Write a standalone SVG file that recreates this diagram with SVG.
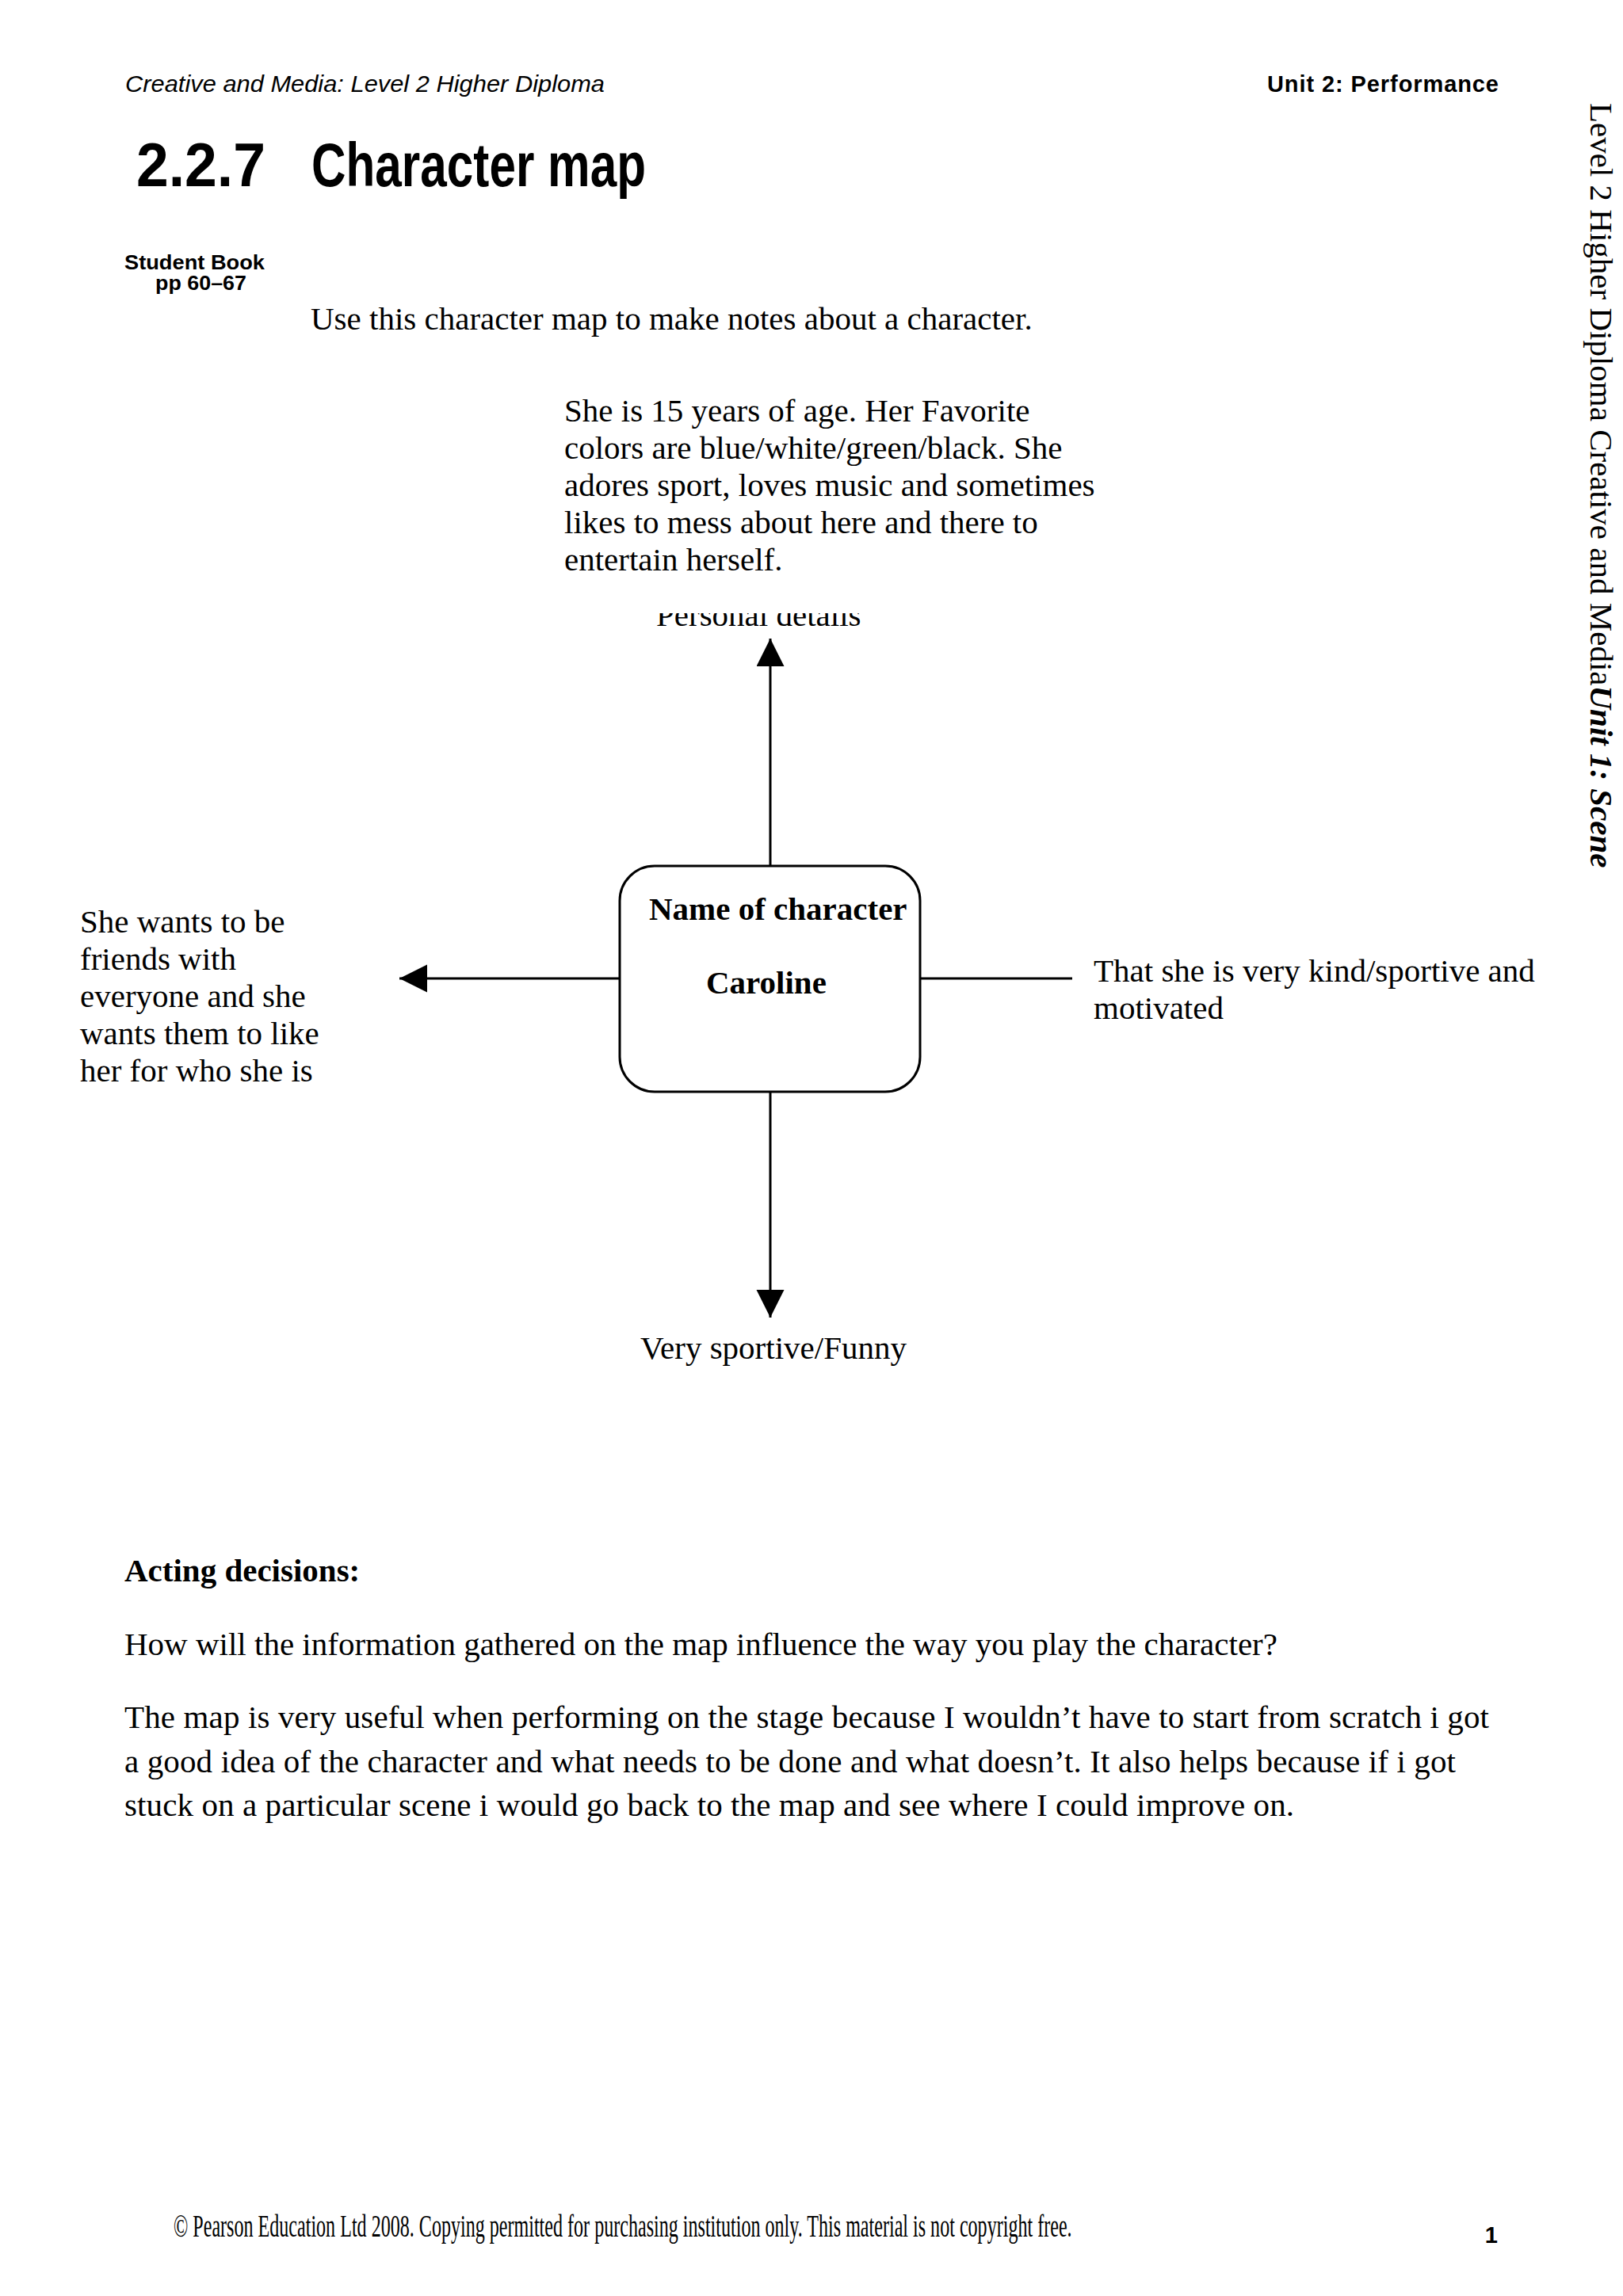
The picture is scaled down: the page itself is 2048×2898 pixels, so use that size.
<svg xmlns="http://www.w3.org/2000/svg" width="2048" height="2898" viewBox="0 0 2048 2898">
<style>
.serif{font-family:"Liberation Serif","Times New Roman",serif;font-size:41px;fill:#000}
.bold{font-weight:bold}
.sans{font-family:"Liberation Sans",Arial,sans-serif;fill:#000}
.conn{stroke:#000;stroke-width:3;fill:none}
.box{stroke:#000;stroke-width:3;fill:#fff}
</style>
<defs>
<marker id="arrow" markerUnits="userSpaceOnUse" markerWidth="36" markerHeight="36" refX="35" refY="17.5" orient="auto">
<path d="M0,0 L35,17.5 L0,35 z" fill="#000"/>
</marker>
<clipPath id="clipPD"><rect x="700" y="774" width="600" height="60"/></clipPath>
</defs>
<rect width="2048" height="2898" fill="#fff"/>

<g id="page-header">
<text class="sans" x="158" y="116" font-size="30" font-style="italic" textLength="605" lengthAdjust="spacingAndGlyphs">Creative and Media: Level 2 Higher Diploma</text>
<text class="sans" x="1599" y="116" font-size="29" font-weight="bold" textLength="292" lengthAdjust="spacing">Unit 2: Performance</text>
<text class="sans" x="172" y="235" font-size="77" font-weight="bold" textLength="163" lengthAdjust="spacingAndGlyphs">2.2.7</text>
<text class="sans" x="393" y="235" font-size="77" font-weight="bold" textLength="422" lengthAdjust="spacingAndGlyphs">Character map</text>
<text class="sans" x="157" y="340" font-size="25" font-weight="bold" textLength="177" lengthAdjust="spacingAndGlyphs">Student Book</text>
<text class="sans" x="196" y="366" font-size="25" font-weight="bold" textLength="115" lengthAdjust="spacingAndGlyphs">pp 60–67</text>
<text class="serif" x="392" y="416">Use this character map to make notes about a character.</text>
<text class="serif" transform="translate(2007,130) rotate(90)" x="0" y="0">Level 2 Higher Diploma Creative and Media<tspan font-weight="bold" font-style="italic">Unit 1: Scene</tspan></text>
</g>

<g id="connectors">
<line class="conn" x1="972" y1="1092" x2="972" y2="806" marker-end="url(#arrow)"/>
<line class="conn" x1="782" y1="1235" x2="504" y2="1235" marker-end="url(#arrow)"/>
<line class="conn" x1="1161" y1="1235" x2="1353" y2="1235"/>
<line class="conn" x1="972" y1="1378" x2="972" y2="1663" marker-end="url(#arrow)"/>
</g>

<g id="node-center">
<rect class="box" x="782" y="1093" width="379" height="285" rx="44" ry="44"/>
<text class="serif bold" x="819" y="1161">Name of character</text>
<text class="serif bold" x="891" y="1254">Caroline</text>
</g>

<g id="node-top">
<text class="serif" x="828" y="790" clip-path="url(#clipPD)">Personal details</text>
<text class="serif" x="712">
<tspan x="712" y="532">She is 15 years of age. Her Favorite</tspan>
<tspan x="712" y="579">colors are blue/white/green/black. She</tspan>
<tspan x="712" y="626">adores sport, loves music and sometimes</tspan>
<tspan x="712" y="673">likes to mess about here and there to</tspan>
<tspan x="712" y="720">entertain herself.</tspan>
</text>
</g>

<g id="node-left">
<text class="serif">
<tspan x="101" y="1177">She wants to be</tspan>
<tspan x="101" y="1224">friends with</tspan>
<tspan x="101" y="1271">everyone and she</tspan>
<tspan x="101" y="1318">wants them to like</tspan>
<tspan x="101" y="1365">her for who she is</tspan>
</text>
</g>

<g id="node-right">
<text class="serif">
<tspan x="1380" y="1239">That she is very kind/sportive and</tspan>
<tspan x="1380" y="1286">motivated</tspan>
</text>
</g>

<g id="node-bottom">
<text class="serif" x="808" y="1715">Very sportive/Funny</text>
</g>

<g id="acting-decisions">
<text class="serif bold" x="157" y="1996">Acting decisions:</text>
<text class="serif" x="157" y="2089">How will the information gathered on the map influence the way you play the character?</text>
<text class="serif" x="157" y="2181" textLength="1722" lengthAdjust="spacing">The map is very useful when performing on the stage because I wouldn’t have to start from scratch i got</text>
<text class="serif" x="157" y="2237" textLength="1680" lengthAdjust="spacing">a good idea of the character and what needs to be done and what doesn’t. It also helps because if i got</text>
<text class="serif" x="157" y="2292" textLength="1476" lengthAdjust="spacing">stuck on a particular scene i would go back to the map and see where I could improve on.</text>
</g>

<g id="footer">
<text class="serif" transform="translate(219,2823) scale(0.8,1)" x="0" y="0" font-size="22" textLength="1417" lengthAdjust="spacingAndGlyphs">© Pearson Education Ltd 2008. Copying permitted for purchasing institution only. This material is not copyright free.</text>
<text class="sans" x="1890" y="2831" font-size="29" font-weight="bold" text-anchor="end">1</text>
</g>
</svg>
